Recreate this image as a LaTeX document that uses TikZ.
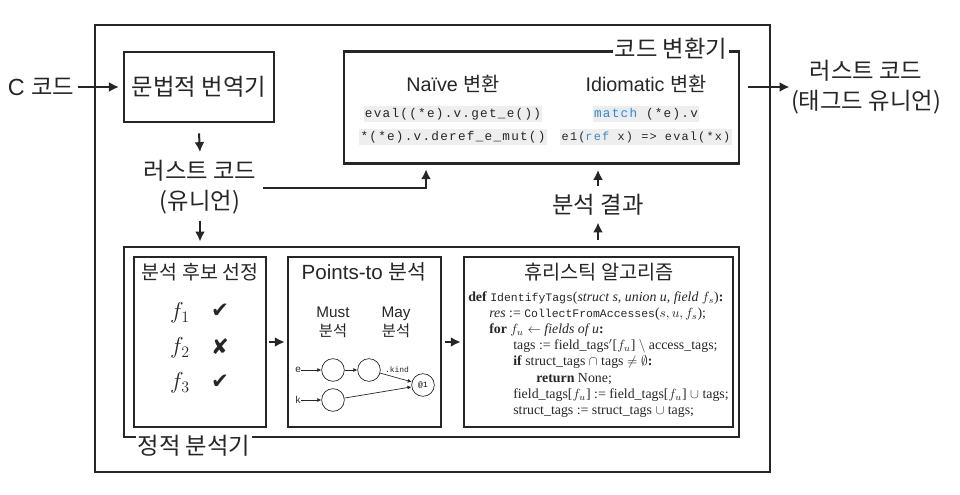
\documentclass[tikz,border=0pt]{standalone}
\usepackage{fontspec}
\setmainfont{Liberation Sans}
\newfontfamily\kr{Noto Sans CJK KR}
\newfontfamily\codefont[LetterSpace=10]{Liberation Mono}
\newfontfamily\algmono{Liberation Mono}
\newfontfamily\algserif{Liberation Serif}
\newfontfamily\sym{DejaVu Sans}
\usetikzlibrary{arrows.meta}
\definecolor{ink}{HTML}{262626}
\definecolor{codebg}{HTML}{EEEEEE}
\definecolor{kwbg}{HTML}{E3EBF3}
\definecolor{kw}{HTML}{3F86C6}
\tikzset{
  frame/.style={draw=ink,line width=1.6pt,fill=none,inner sep=0pt,rectangle},
  arr/.style={draw=ink,line width=1.5pt,-{Latex[length=7.5pt,width=7.5pt]}},
  thin arr/.style={draw=ink,line width=0.5pt,-{Latex[length=3pt,width=3pt]}},
  big/.style={text=ink,font=\fontsize{17.5}{22}\selectfont\kr,inner sep=0pt,align=center},
  mid/.style={text=ink,font=\fontsize{14.8}{16}\selectfont,inner sep=0pt,align=center},
  title/.style={big,fill=white,inner xsep=1pt,inner ysep=0pt},
  code/.style={text=ink,font=\fontsize{9.5}{11}\selectfont\codefont,fill=codebg,inner xsep=1pt,inner ysep=0pt,minimum height=11.5pt},
  circ/.style={draw=ink,line width=0.5pt,circle,minimum size=17pt,inner sep=0pt,font=\fontsize{6}{7}\selectfont\algmono},
  small/.style={text=ink,font=\fontsize{7.5}{8}\selectfont\algmono,inner sep=0pt},
  sel/.style={text=ink,font=\LARGE,inner sep=0pt},
  tick/.style={text=ink,font=\fontsize{16}{17}\selectfont\sym,inner sep=0pt},
}
\begin{document}
\begin{tikzpicture}[x=0.75pt,y=-0.75pt]
\useasboundingbox (0,0) rectangle (960,495);
% frames
\node[frame,minimum width=506pt,minimum height=335pt] (outer) at (432.5,248.5) {};
\node[frame,minimum width=112.5pt,minimum height=52pt] (trans) at (199,87) {};
\node[frame,minimum width=296pt,minimum height=84pt] (conv) at (541.5,107.5) {};
\node[frame,minimum width=461pt,minimum height=143pt] (static) at (431.5,342) {};
\node[frame,minimum width=99pt,minimum height=127pt] (cand) at (200,342) {};
\node[frame,minimum width=115pt,minimum height=127pt] (pts) at (364.5,342) {};
\node[frame,minimum width=202pt,minimum height=127pt] (heur) at (598.5,342) {};
% big labels
\node[big] (ccode) at (41,87) {\rmfamily C {\kr 코드}};
\node[big] (translabel) at (199,87) {문법적 번역기};
\node[big] (rustu) at (200,187) {러스트 코드\\(유니언)};
\node[big] (rustt) at (866,87) {러스트 코드\\(태그드 유니언)};
\node[big] (result) at (598,205) {분석 결과};
\node[title] (convt) at (671,49) {코드 변환기};
\node[title] (statict) at (194,446) {정적 분석기};
% section titles
\node[mid] (naive) at (453,84) {Naïve {\kr 변환}};
\node[mid] (idio) at (646,84) {Idiomatic {\kr 변환}};
\node[code] (c1) at (453,114) {eval((*e).v.get\_e())};
\node[code] (c2) at (453,137) {*(*e).v.deref\_e\_mut()};
\node[code] (c3) at (646,114) {\setlength{\fboxsep}{0pt}\colorbox{kwbg}{\textcolor{kw}{match}} (*e).v};
\node[code,font=\fontsize{8.9}{11}\selectfont\codefont] (c4) at (646,137) {e1(\textcolor{kw}{ref} x) => eval(*x)};
\node[mid,font=\fontsize{14.6}{16}\selectfont\kr] (candt) at (200,272) {분석 후보 선정};
\node[mid,font=\fontsize{15.4}{16}\selectfont] (ptst) at (364,272) {Points-to {\kr 분석}};
\node[mid,font=\fontsize{14.8}{16}\selectfont\kr] (heurt) at (599,272) {휴리스틱 알고리즘};
% candidates
\node[sel] (f1) at (180,313) {$f_1$};
\node[sel] (f2) at (180,348) {$f_2$};
\node[sel] (f3) at (180,383) {$f_3$};
\node[tick] (m1) at (220,311) {✔};
\node[tick] (m2) at (220,347) {✘};
\node[tick] (m3) at (220,382) {✔};
% points-to
\node[mid,font=\fontsize{11.5}{14}\selectfont] (must) at (333,322) {Must\\{\kr 분석}};
\node[mid,font=\fontsize{11.5}{14}\selectfont] (may) at (396,322) {May\\{\kr 분석}};
\node[small] (e) at (298,370) {e};
\node[small] (k) at (298,400) {k};
\node[circ] (n1) at (333,370) {};
\node[circ] (n2) at (369,370) {};
\node[circ] (n3) at (333,400) {};
\node[circ] (n4) at (423,385) {@1};
\node[small,font=\fontsize{6}{7}\selectfont\algmono] (kind) at (397,370) {.kind};
\draw[thin arr] (e) -- (n1);
\draw[thin arr] (k) -- (n3);
\draw[thin arr] (n1) -- (n2);
\draw[thin arr] (n2) -- (n4);
\draw[thin arr] (n3) -- (n4);
% algorithm
\node[anchor=north west,inner sep=0pt,align=left,text=ink,font=\fontsize{10.4}{12.15}\selectfont\algserif] (alg) at (468,291) {%
\textbf{def} {\algmono\fontsize{8.6}{12.15}\selectfont IdentifyTags}(\textit{struct s, union u, field} $f_s$)\textbf{:}\\
\hspace*{15.75pt}\textit{res} := {\algmono\fontsize{8.6}{12.15}\selectfont CollectFromAccesses}($s,u,f_s$);\\
\hspace*{15.75pt}\textbf{for} $f_u\leftarrow$ \textit{fields of u}\textbf{:}\\
\hspace*{33.75pt}tags := field\_tags$'$[$f_u$] $\setminus$ access\_tags;\\
\hspace*{33.75pt}\textbf{if} struct\_tags $\cap$ tags $\neq\emptyset$\textbf{:}\\
\hspace*{51pt}\textbf{return} None;\\
\hspace*{33.75pt}field\_tags[$f_u$] := field\_tags[$f_u$] $\cup$ tags;\\
\hspace*{33.75pt}struct\_tags := struct\_tags $\cup$ tags;};
% connectors
\draw[arr] ([xshift=3pt]ccode.east) -- ([xshift=-3pt]trans.west);
\draw[arr] ([yshift=-8pt]trans.south) -- ([yshift=6pt]rustu.north);
\draw[arr] ([yshift=-5pt]rustu.south) -- ([yshift=3pt]static.north -| rustu);
\coordinate (ub) at (426,188);
\draw[arr] ([xshift=5pt]rustu.east |- ub) -- (ub) -- ([yshift=-3.5pt]conv.south -| ub);
\draw[arr] ([xshift=6pt]conv.east |- rustt) -- ([xshift=-1pt]rustt.west);
\draw[arr] ([yshift=6pt]result.north) -- ([yshift=-4pt]conv.south -| result);
\draw[arr] ([yshift=4pt]static.north -| result) -- ([yshift=-5pt]result.south);
\draw[arr] ([xshift=1.5pt]cand.east) -- ([xshift=-1.5pt]pts.west);
\draw[arr] ([xshift=2pt]pts.east) -- ([xshift=-1.5pt]heur.west);
\end{tikzpicture}
\end{document}
